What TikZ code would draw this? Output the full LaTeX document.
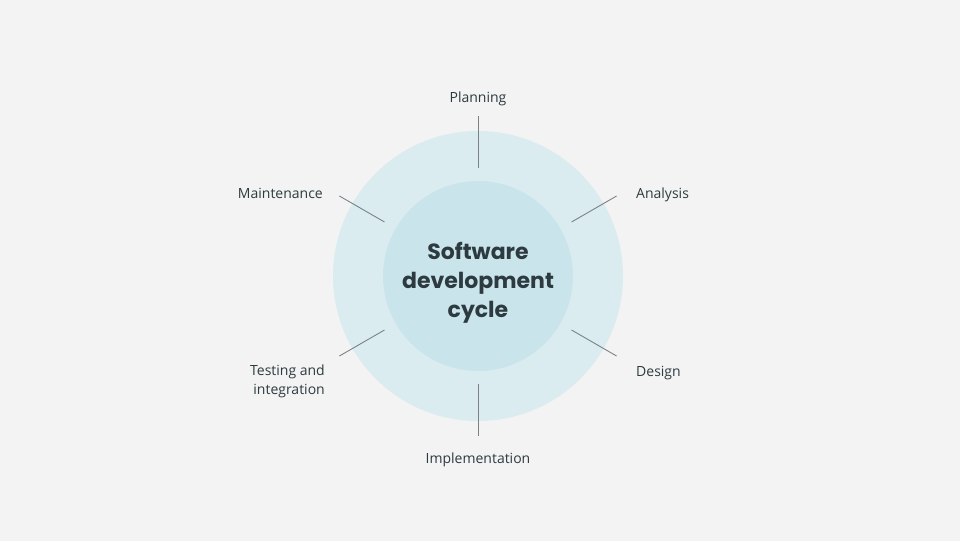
\documentclass[tikz,border=0pt]{standalone}
\usepackage{fontspec}
\setmainfont{Open Sans}
\newfontfamily\titlefont{Poppins}
\usetikzlibrary{positioning,calc}
\definecolor{bgcol}{HTML}{F3F3F3}
\definecolor{outercol}{HTML}{DBECF0}
\definecolor{innercol}{HTML}{C9E5EB}
\definecolor{txtcol}{HTML}{2D3B40}
\definecolor{spokecol}{HTML}{7A8287}
\begin{document}
\begin{tikzpicture}[x=1pt, y=-1pt,
  phase/.style = {font=\fontsize{14}{19}\selectfont, text=txtcol, inner sep=0pt},
  spoke/.style = {draw=spokecol, line width=0.9pt}]
\fill[bgcol] (0,0) rectangle (960,541);
\useasboundingbox (0,0) rectangle (960,541);
\node[circle, fill=outercol, minimum size=290pt, inner sep=0pt] (outer) at (478,276) {};
\node[circle, fill=innercol, minimum size=190pt, inner sep=0pt] (inner) at (478,276) {};
\node[font=\titlefont\bfseries\fontsize{22}{29}\selectfont, text=txtcol, align=center] (title) at (478,283) {Software\\development\\cycle};
\foreach \a/\n in {90/pl, 30/an, -30/de, -90/im, 210/te, 150/ma} {
  \coordinate (\n-in) at ($(outer.center)+(\a:108)$);
  \coordinate (\n-out) at ($(outer.center)+(\a:160)$);
  \draw[spoke] (\n-in) -- (\n-out);
}
\node[phase, anchor=base] (planning) at (478,102) {Planning};
\node[phase, anchor=base west] (analysis) at (636,198) {Analysis};
\node[phase, anchor=base west] (design) at (636,376) {Design};
\node[phase, anchor=base] (implementation) at (478,463) {Implementation};
\node[phase, anchor=base east, align=right] (testing) at (325,394) {Testing and\\integration};
\node[phase, anchor=base east] (maintenance) at (323,198) {Maintenance};
\end{tikzpicture}
\end{document}
